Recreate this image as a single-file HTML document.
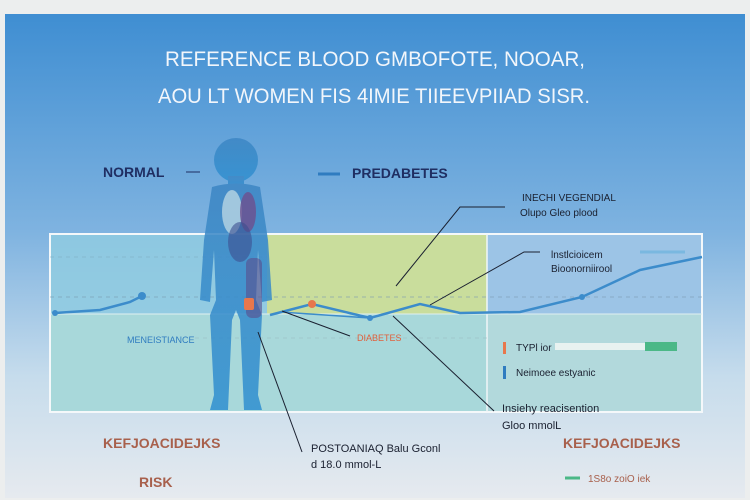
<!DOCTYPE html>
<html><head><meta charset="utf-8"><style>
body{margin:0;width:750px;height:500px;overflow:hidden;background:#eceeee}
svg{display:block}
text{font-family:"Liberation Sans",sans-serif}
</style></head><body>
<svg width="750" height="500" viewBox="0 0 750 500">
<defs>
<linearGradient id="bg" x1="0" y1="0" x2="0" y2="1">
<stop offset="0" stop-color="#3f8ed2"/><stop offset="0.45" stop-color="#7fb3e0"/><stop offset="0.75" stop-color="#c6dcec"/><stop offset="1" stop-color="#e6eaef"/></linearGradient>
<linearGradient id="body" x1="0" y1="0" x2="0" y2="1">
<stop offset="0" stop-color="#3d86c4"/><stop offset="1" stop-color="#2f8fd0"/></linearGradient>
</defs>
<rect x="0" y="0" width="750" height="500" fill="#eceeee"/>
<rect x="5" y="14" width="740" height="484" fill="url(#bg)"/>
<text x="165" y="66" fill="#f2f6fb" font-size="21" textLength="420" lengthAdjust="spacingAndGlyphs">REFERENCE BLOOD GMBOFOTE, NOOAR,</text>
<text x="158" y="103" fill="#f2f6fb" font-size="21" textLength="432" lengthAdjust="spacingAndGlyphs">AOU LT WOMEN FIS 4IMIE TIIEEVPIIAD SISR.</text>
<!-- chart regions -->
<rect x="50" y="234" width="217" height="80" fill="#8fcbe0" opacity="0.85"/>
<rect x="267" y="234" width="220" height="80" fill="#c9dd9c"/>
<rect x="487" y="234" width="215" height="80" fill="#9cc4e6"/>
<rect x="50" y="314" width="437" height="98" fill="#a8d8da"/>
<rect x="487" y="314" width="215" height="98" fill="#b2d9dc"/>
<rect x="50" y="234" width="652" height="178" fill="none" stroke="#f4f8fa" stroke-width="2"/>
<line x1="487" y1="234" x2="487" y2="412" stroke="#f0f6f8" stroke-width="1.5"/>
<line x1="50" y1="314" x2="702" y2="314" stroke="#e0f0f0" stroke-width="1"/>
<line x1="50" y1="297" x2="702" y2="297" stroke="#7a9ab0" stroke-width="1" stroke-dasharray="4 4" opacity="0.6"/>
<line x1="50" y1="257" x2="267" y2="257" stroke="#7aaac0" stroke-width="1" stroke-dasharray="4 4" opacity="0.5"/>
<line x1="195" y1="338" x2="487" y2="338" stroke="#9ab8c0" stroke-width="1" stroke-dasharray="4 4" opacity="0.5"/>
<!-- figure -->
<g fill="url(#body)" opacity="0.85">
<circle cx="236" cy="160" r="22"/>
<rect x="228" y="176" width="16" height="12"/>
<path d="M212 187 Q236 180 260 187 L268 240 L272 300 L262 302 L258 250 L256 300 L262 315 L258 395 L262 410 L244 410 L240 320 L236 310 L232 320 L228 410 L210 410 L214 395 L210 315 L216 300 L214 250 L210 302 L200 300 L204 240 Z"/>
</g>
<ellipse cx="232" cy="212" rx="10" ry="22" fill="#b9d6e4" opacity="0.8"/>
<ellipse cx="248" cy="212" rx="8" ry="20" fill="#6e4f8e" opacity="0.8"/>
<ellipse cx="240" cy="242" rx="12" ry="20" fill="#3e4f90" opacity="0.6"/>
<rect x="246" y="258" width="16" height="60" rx="6" fill="#5a4c8c" opacity="0.6"/>
<rect x="244" y="298" width="10" height="12" rx="2" fill="#e8774c"/>
<!-- lines -->
<polyline points="55,313 100,310 130,302 142,296" fill="none" stroke="#3c8ccb" stroke-width="2.5"/>
<circle cx="55" cy="313" r="3" fill="#3c8ccb"/><circle cx="142" cy="296" r="4" fill="#3c8ccb"/>
<polyline points="270,315 312,304 370,318 420,304 460,313 520,312 582,297 640,270 702,257" fill="none" stroke="#3c8ccb" stroke-width="2.5"/>
<polyline points="280,312 370,318" fill="none" stroke="#3c8ccb" stroke-width="1.5"/>
<circle cx="312" cy="304" r="4" fill="#e8774c"/><circle cx="370" cy="318" r="3" fill="#3c8ccb"/><circle cx="582" cy="297" r="3" fill="#3c8ccb"/>
<!-- labels -->
<text x="103" y="177" fill="#1f2e62" font-size="14" font-weight="bold">NORMAL</text>
<line x1="186" y1="172" x2="200" y2="172" stroke="#1f2e62"/>
<line x1="318" y1="174" x2="340" y2="174" stroke="#2f7cc0" stroke-width="3"/>
<text x="352" y="178" fill="#1f2e62" font-size="14" font-weight="bold">PREDABETES</text>
<text x="522" y="201" fill="#1a2030" font-size="10">INECHI VEGENDIAL</text>
<text x="520" y="216" fill="#1a2030" font-size="10">Olupo Gleo plood</text>
<polyline points="396,286 460,207 505,207" fill="none" stroke="#1a2030"/>
<text x="551" y="258" fill="#1a2030" font-size="10">lnstlcioicem</text>
<text x="551" y="272" fill="#1a2030" font-size="10">Bioonorniirool</text>
<polyline points="430,305 524,252 540,252" fill="none" stroke="#1a2030"/>
<line x1="640" y1="252" x2="685" y2="252" stroke="#7ab8e0" stroke-width="3"/>
<text x="127" y="343" fill="#2f7cc0" font-size="9">MENEISTIANCE</text>
<text x="357" y="341" fill="#e0603c" font-size="9">DIABETES</text>
<line x1="282" y1="311" x2="350" y2="336" stroke="#1a2030"/>
<rect x="503" y="342" width="3" height="12" fill="#e8774c"/>
<text x="516" y="351" fill="#1a2030" font-size="10">TYPl ior</text>
<rect x="555" y="343" width="90" height="7" fill="#e8f2f0"/>
<rect x="645" y="342" width="32" height="9" fill="#4bb887"/>
<rect x="503" y="366" width="3" height="13" fill="#2f7cc0"/>
<text x="516" y="376" fill="#1a2030" font-size="10">Neimoee estyanic</text>
<line x1="393" y1="316" x2="494" y2="411" stroke="#1a2030"/>
<text x="502" y="412" fill="#1a2030" font-size="11">Insiehy reacisention</text>
<text x="502" y="429" fill="#1a2030" font-size="11">Gloo mmolL</text>
<line x1="258" y1="332" x2="302" y2="452" stroke="#1a2030"/>
<text x="311" y="452" fill="#1a2030" font-size="11">POSTOANIAQ Balu Gconl</text>
<text x="311" y="468" fill="#1a2030" font-size="11">d 18.0 mmol-L</text>
<text x="103" y="448" fill="#a8604c" font-size="14" font-weight="bold">KEFJOACIDEJKS</text>
<text x="139" y="487" fill="#a8604c" font-size="14" font-weight="bold">RISK</text>
<text x="563" y="448" fill="#a8604c" font-size="14" font-weight="bold">KEFJOACIDEJKS</text>
<line x1="565" y1="478" x2="580" y2="478" stroke="#4bb887" stroke-width="3"/>
<text x="588" y="482" fill="#a8604c" font-size="10">1S8o zoiO iek</text>
</svg>
</body></html>
